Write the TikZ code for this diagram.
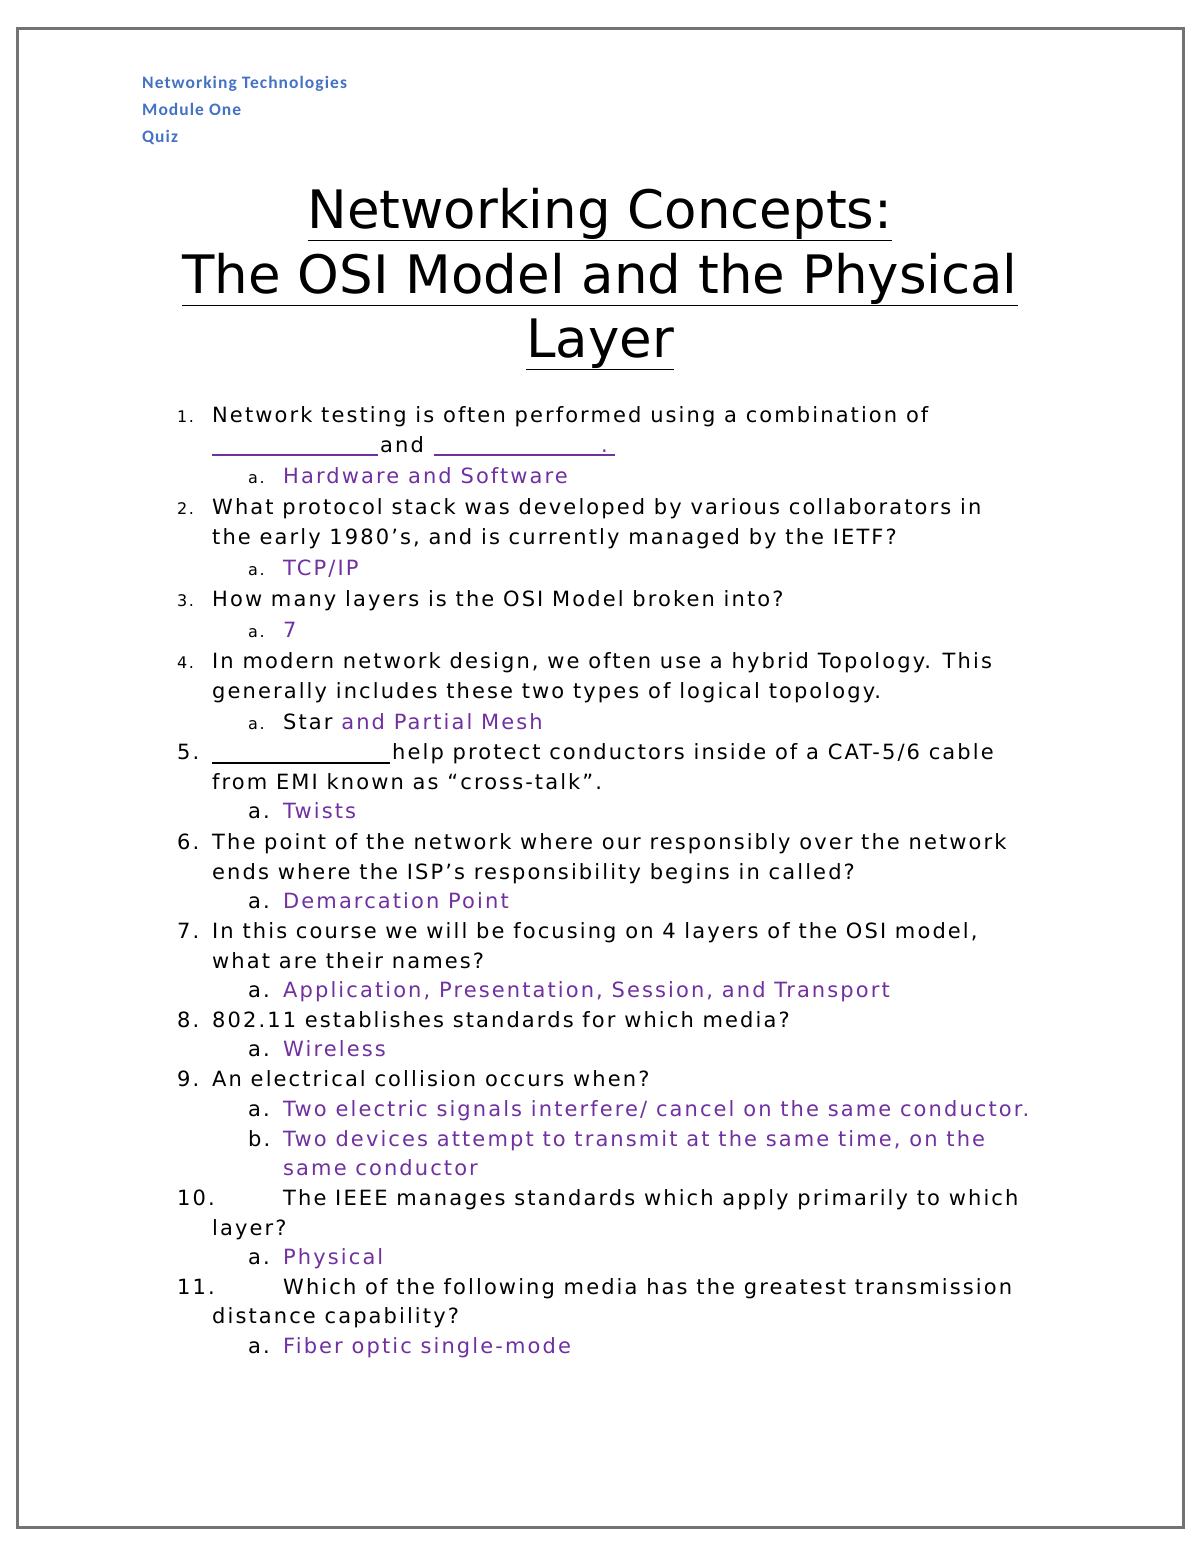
\documentclass[tikz,border=0pt]{standalone}
\usepackage{fontspec}
\setmainfont{DejaVu Sans}[LetterSpace=10]
\newfontfamily\ttlfont{DejaVu Sans}
\newfontfamily\hdr{Carlito}[LetterSpace=6]
\definecolor{pur}{HTML}{7030A0}
\definecolor{hblue}{HTML}{4472C4}
\newcounter{nn}
\newcommand{\Tx}[3]{\stepcounter{nn}\node[txt] (n\arabic{nn}) at (#2,-#1) {#3};}
\newcommand{\Pu}[3]{\stepcounter{nn}\node[txt,text=pur] (n\arabic{nn}) at (#2,-#1) {#3};}
\newcommand{\sm}{\fontsize{16}{18}\selectfont}
\begin{document}
\begin{tikzpicture}[x=1pt,y=1pt,
 txt/.style={anchor=base west,inner sep=0pt,font=\fontsize{21}{25}\selectfont},
 hd/.style={anchor=base west,inner sep=0pt,text=hblue,font=\hdr\bfseries\fontsize{17.5}{20}\selectfont},
 ttl/.style={anchor=base,inner sep=0pt,font=\ttlfont\fontsize{53}{60}\selectfont}]
\useasboundingbox (0,0) rectangle (1200,-1553);
\draw[line width=3pt,draw=black!55] (17,-28) rectangle (1183,-1527);
\node[hd] (h1) at (142,-88) {Networking Technologies};
\node[hd] (h2) at (142,-115) {Module One};
\node[hd] (h3) at (142,-142) {Quiz};
\node[ttl] (t1) at (600,-228) {\underline{Networking Concepts:}};
\node[ttl] (t2) at (600,-293) {\underline{The OSI Model and the Physical}};
\node[ttl] (t3) at (600,-357) {\underline{Layer}};
\Tx{422}{177}{\sm 1.}\Tx{422}{212}{Network testing is often performed using a combination of}
\draw[pur,line width=1.5pt] (212,-455) -- (378,-455);
\Tx{452}{380}{and}
\draw[pur,line width=1.5pt] (434,-455) -- (615,-455);
\Pu{452}{601}{.}
\Tx{483}{248}{\sm a.}\Pu{483}{283}{Hardware and Software}
\Tx{514}{177}{\sm 2.}\Tx{514}{212}{What protocol stack was developed by various collaborators in}
\Tx{544}{212}{the early 1980’s, and is currently managed by the IETF?}
\Tx{575}{248}{\sm a.}\Pu{575}{283}{TCP/IP}
\Tx{606}{177}{\sm 3.}\Tx{606}{212}{How many layers is the OSI Model broken into?}
\Tx{637}{248}{\sm a.}\Pu{637}{283}{7}
\Tx{668}{177}{\sm 4.}\Tx{668}{212}{In modern network design, we often use a hybrid Topology. This}
\Tx{698}{212}{generally includes these two types of logical topology.}
\Tx{729}{248}{\sm a.}\Tx{729}{283}{Star \textcolor{pur}{and Partial Mesh}}
\Tx{759}{177}{5.}
\draw[line width=1.2pt] (212,-763) -- (390,-763);
\Tx{759}{392}{help protect conductors inside of a CAT-5/6 cable}
\Tx{789}{212}{from EMI known as “cross-talk”.}
\Tx{818}{248}{a.}\Pu{818}{283}{Twists}
\Tx{849}{177}{6.}\Tx{849}{212}{The point of the network where our responsibly over the network}
\Tx{879}{212}{ends where the ISP’s responsibility begins in called?}
\Tx{908}{248}{a.}\Pu{908}{283}{Demarcation Point}
\Tx{938}{177}{7.}\Tx{938}{212}{In this course we will be focusing on 4 layers of the OSI model,}
\Tx{968}{212}{what are their names?}
\Tx{997}{248}{a.}\Pu{997}{283}{Application, Presentation, Session, and Transport}
\Tx{1027}{177}{8.}\Tx{1027}{212}{802.11 establishes standards for which media?}
\Tx{1056}{248}{a.}\Pu{1056}{283}{Wireless}
\Tx{1086}{177}{9.}\Tx{1086}{212}{An electrical collision occurs when?}
\Tx{1116}{248}{a.}\Pu{1116}{283}{Two electric signals interfere/ cancel on the same conductor.}
\Tx{1146}{248}{b.}\Pu{1146}{283}{Two devices attempt to transmit at the same time, on the}
\Pu{1175}{283}{same conductor}
\Tx{1205}{177}{10.}\Tx{1205}{283}{The IEEE manages standards which apply primarily to which}
\Tx{1235}{212}{layer?}
\Tx{1264}{248}{a.}\Pu{1264}{283}{Physical}
\Tx{1294}{177}{11.}\Tx{1294}{283}{Which of the following media has the greatest transmission}
\Tx{1323}{212}{distance capability?}
\Tx{1353}{248}{a.}\Pu{1353}{283}{Fiber optic single-mode}
\end{tikzpicture}
\end{document}
